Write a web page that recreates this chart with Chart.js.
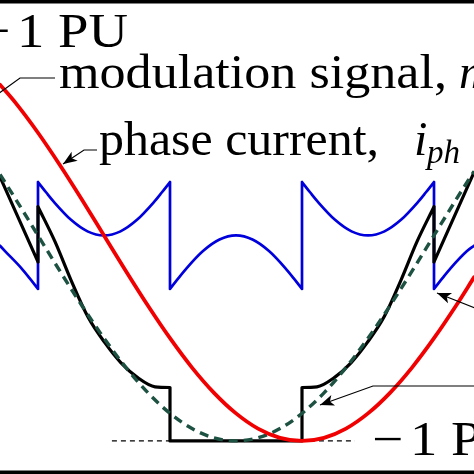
<!DOCTYPE html>
<html>
<head>
<meta charset="utf-8">
<script src="https://cdn.jsdelivr.net/npm/chart.js@4"></script>
<style>
  html, body { margin: 0; padding: 0; background: #fff; }
  #wrap { width: 474px; height: 474px; position: relative; }
</style>
</head>
<body>
<div id="wrap"><canvas id="waves"></canvas></div>
<script>
// electrical angle (deg) and per-unit values
const angleDeg = [42.73, 50, 60, 70, 80, 90, 100, 110, 120, 130, 140, 150, 160, 170, 180, 190, 200, 210, 220, 230, 240, 250, 258.18];
const modulationPU = [0.734, 0.643, 0.5, 0.342, 0.174, 0, -0.174, -0.342, -0.5, -0.643, -0.766, -0.866, -0.94, -0.985, -1, -0.985, -0.94, -0.866, -0.766, -0.643, -0.5, -0.342, -0.204];
const fundamentalPU = [0.297, 0.174, 0, -0.174, -0.342, -0.5, -0.643, -0.766, -0.866, -0.94, -0.985, -1, -0.985, -0.94, -0.866, -0.766, -0.643, -0.5, -0.342, -0.174, 0, 0.174, 0.312];

// blue ripple, pieces split by null
const rippleAngle = [42.73, 45, 52.5, 56.25, 60, null, 60, 60, null,
  60, 63.75, 67.5, 75, 82.5, 90, 97.5, 105, 112.5, 116.25, 120, null, 120, 120, null,
  120, 123.75, 127.5, 135, 142.5, 150, 157.5, 165, 172.5, 176.25, 180, null, 180, 180, null,
  180, 183.75, 187.5, 195, 202.5, 210, 217.5, 225, 232.5, 236.25, 240, null, 240, 240, null,
  240, 243.75, 247.5, 255, 258.18];
const rippleValue = [-0.05, -0.076, -0.16, -0.209, -0.26, null, -0.26, 0.26, null,
  0.26, 0.209, 0.16, 0.076, 0.02, 0, 0.02, 0.076, 0.16, 0.209, 0.26, null, 0.26, -0.26, null,
  -0.26, -0.209, -0.16, -0.076, -0.02, 0, -0.02, -0.076, -0.16, -0.209, -0.26, null, -0.26, 0.26, null,
  0.26, 0.209, 0.16, 0.076, 0.02, 0, 0.02, 0.076, 0.16, 0.209, 0.26, null, 0.26, -0.26, null,
  -0.26, -0.209, -0.16, -0.076, -0.05];

// black phase current
const currentAngle = [42.73, 60, null, 60, 60, null,
  60, 67.73, 75, 82.73, 90.45, 97.73, 105.45, 113.2, 120, 120, 180, 180, 186.8, 194.55, 202.27, 209.55, 217.27, 225, 232.27, 240, null,
  240, 240, null, 240, 258.18];
const currentValue = [0.285, -0.129, null, -0.129, 0.14, null,
  0.14, -0.03, -0.217, -0.397, -0.523, -0.62, -0.693, -0.737, -0.74, -1, -1, -0.74, -0.737, -0.693, -0.62, -0.523, -0.397, -0.217, -0.03, 0.14, null,
  0.14, -0.129, null, -0.129, 0.307];

const refAngle = [93.6, 204.1];
const refValue = [-1, -1];

const angleRange = [42.73, 258.18];
const puRange = [-1.161, 1.146];

const pts = (xs, ys) => xs.map((x, i) => ({ x: x, y: ys[i] }));

const notes = {
  id: "notes",
  afterDatasetsDraw(chart) {
    const ctx = chart.ctx;
    const W = chart.width;
    ctx.save();
    ctx.fillStyle = "#000";
    ctx.strokeStyle = "#000";
    // frame edges
    ctx.fillRect(0, 0, W, 3.5);
    ctx.fillRect(0, chart.height - 3.5, W, 3.5);

    function fit(str, x, y, w) {
      const m = ctx.measureText(str).width;
      ctx.save();
      ctx.translate(x, y);
      ctx.scale(w / m, 1);
      ctx.fillText(str, 0, 0);
      ctx.restore();
      return w / m;
    }
    function leader(p, head) {
      ctx.lineWidth = 1.2;
      ctx.beginPath();
      ctx.moveTo(p[0][0], p[0][1]);
      for (let i = 1; i < p.length; i++) ctx.lineTo(p[i][0], p[i][1]);
      ctx.stroke();
      if (!head) return;
      const [x1, y1] = p[p.length - 2];
      const [x2, y2] = p[p.length - 1];
      const a = Math.atan2(y2 - y1, x2 - x1);
      const L = 14, H = 5.5;
      const c = Math.cos(a), s = Math.sin(a);
      ctx.beginPath();
      ctx.moveTo(x2, y2);
      ctx.lineTo(x2 - L * c + H * s, y2 - L * s - H * c);
      ctx.lineTo(x2 - 0.75 * L * c, y2 - 0.75 * L * s);
      ctx.lineTo(x2 - L * c - H * s, y2 - L * s + H * c);
      ctx.closePath();
      ctx.fill();
    }

    ctx.textBaseline = "alphabetic";
    ctx.font = '48px "Liberation Serif"';
    ctx.fillText("+", -17, 47);
    const k = fit("1 PU", 17, 47, 111);
    fit("modulation signal,", 59, 88, 388);
    fit("phase current,", 99, 155, 280);
    ctx.save();
    ctx.translate(372, 455);
    ctx.scale(1.15, 1);
    ctx.fillText("\u2212", 0, 0);
    ctx.restore();
    ctx.save();
    ctx.translate(410, 455);
    ctx.scale(k, 1);
    ctx.fillText("1 PU", 0, 0);
    ctx.restore();
    ctx.font = 'italic 48px "Liberation Serif"';
    ctx.fillText("m", 459, 88);
    ctx.fillText("i", 414, 155);
    ctx.font = 'italic 33px "Liberation Serif"';
    ctx.fillText("ph", 427, 163);

    leader([[55, 78], [20, 78], [-6, 97]], false);
    leader([[97, 150], [84, 150], [63, 164]], true);
    leader([[480, 310], [437, 293]], true);
    leader([[480, 386], [373, 386], [320, 405]], true);
    ctx.restore();
  }
};

const base = {
  pointRadius: 0,
  fill: false,
  spanGaps: false,
  cubicInterpolationMode: "monotone",
  borderCapStyle: "round",
  borderJoinStyle: "round"
};

new Chart(document.getElementById("waves"), {
  type: "line",
  data: {
    datasets: [
      { ...base, label: "modulation signal", data: pts(angleDeg, modulationPU), borderColor: "#f00000", borderWidth: 3.8, order: 1 },
      { ...base, label: "fundamental", data: pts(angleDeg, fundamentalPU), borderColor: "#1d5142", borderWidth: 3.4, borderDash: [9, 6], borderCapStyle: "butt", order: 2 },
      { ...base, label: "phase current", data: pts(currentAngle, currentValue), borderColor: "#000", borderWidth: 3.2, order: 3 },
      { ...base, label: "ripple", data: pts(rippleAngle, rippleValue), borderColor: "#0000dc", borderWidth: 2.7, order: 4 },
      { ...base, label: "-1 PU", data: pts(refAngle, refValue), borderColor: "#000", borderWidth: 1.4, borderDash: [5, 4], borderCapStyle: "butt", order: 5 }
    ]
  },
  options: {
    responsive: true,
    maintainAspectRatio: false,
    animation: false,
    layout: { padding: 0 },
    scales: {
      x: { type: "linear", display: false, min: angleRange[0], max: angleRange[1] },
      y: { type: "linear", display: false, min: puRange[0], max: puRange[1] }
    },
    plugins: {
      legend: { display: false },
      tooltip: { enabled: false }
    }
  },
  plugins: [notes]
});
</script>
</body>
</html>
